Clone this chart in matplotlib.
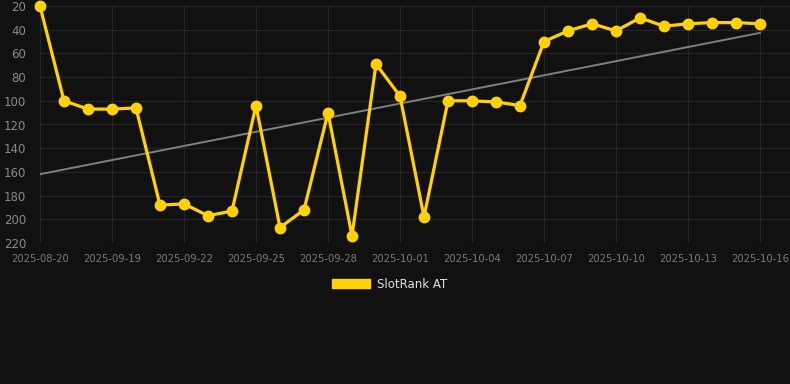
import matplotlib
matplotlib.use("Agg")
import matplotlib.pyplot as plt
from matplotlib.patches import Patch
import numpy as np

dates = ["2025-08-20"] + [f"2025-09-{d:02d}" for d in range(17, 31)] + [f"2025-10-{d:02d}" for d in range(1, 17)]
ranks = [20, 100, 107, 107, 106, 188, 187, 197, 193, 104, 207, 192, 110, 214, 69,
         96, 198, 100, 100, 101, 104, 50, 41, 35, 41, 30, 37, 35, 34, 34, 35]
series_name = "SlotRank AT"
y_ticks = [20, 40, 60, 80, 100, 120, 140, 160, 180, 200, 220]

bg = "#111111"
gold = "#FFD200"

fig = plt.figure(figsize=(7.9, 3.84), dpi=100, facecolor=bg)
ax = fig.add_axes([40/790, (384-243)/384, 750/790, (243-6)/384], facecolor=bg)

x = np.arange(len(ranks))
ax.plot(x, ranks, color=gold, lw=2.3, marker="o", ms=7.5, zorder=3, clip_on=False)

coef = np.polyfit(x, ranks, 1)
ax.plot(x, np.polyval(coef, x), color="#808080", lw=1.4, zorder=2)

ax.set_ylim(220, 20)
ax.set_xlim(0, 31.25)
ax.set_yticks(y_ticks)
xt = list(range(0, len(dates), 3))
ax.set_xticks(xt)
ax.set_xticklabels([dates[i] for i in xt])

ax.grid(True, color="#252525", lw=0.8, zorder=0)
for s in ax.spines.values():
    s.set_visible(False)
ax.tick_params(axis="both", colors="#7a7a7a", labelsize=7.2, length=0)
ax.tick_params(axis="x", pad=8)
ax.tick_params(axis="y", labelsize=8.5, pad=10)
for lab in ax.get_yticklabels():
    lab.set_color("#8a8a8a")

handle = Patch(facecolor=gold, edgecolor=gold)
leg = fig.legend([handle], [series_name], loc="center", bbox_to_anchor=(390/790, 1 - 284/384),
                 frameon=False, fontsize=8.5, labelcolor="#e0e0e0",
                 handlelength=3.2, handleheight=0.9, handletextpad=0.6)

fig.savefig("out.png", dpi=100, facecolor=bg)
